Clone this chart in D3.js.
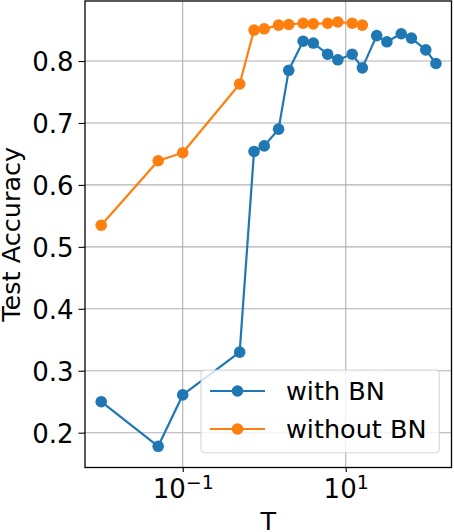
<!DOCTYPE html>
<html>
<head>
<meta charset="utf-8">
<script src="https://cdn.jsdelivr.net/npm/d3@7"></script>
<style>
  body { margin: 0; background: #fff; }
  text { font-family: "DejaVu Sans", sans-serif; fill: #000; }
</style>
</head>
<body>
<svg width="454" height="532"></svg>
<script>
// values
const tWithBN = [0.01, 0.05, 0.1, 0.5, 0.75, 1, 1.5, 2, 3, 4, 6, 8, 12, 16, 24, 32, 48, 64, 96, 128];
const accWithBN = [0.250, 0.178, 0.261, 0.330, 0.654, 0.663, 0.690, 0.785, 0.832, 0.829, 0.811, 0.802,
  0.811, 0.789, 0.841, 0.831, 0.844, 0.837, 0.818, 0.796];
const tWithoutBN = [0.01, 0.05, 0.1, 0.5, 0.75, 1, 1.5, 2, 3, 4, 6, 8, 12, 16];
const accWithoutBN = [0.535, 0.639, 0.652, 0.763, 0.850, 0.852, 0.858, 0.859, 0.861, 0.860, 0.861, 0.863,
  0.861, 0.858];
const seriesNames = ['with BN', 'without BN'];
const xTicks = [0.1, 10];
const yTicks = [0.2, 0.3, 0.4, 0.5, 0.6, 0.7, 0.8];

const svg = d3.select('svg');
const plot = { left: 85, right: 451.5, top: 1, bottom: 467.5 };
const fontSize = 25.5;
const tickFontSize = 26;

const series = [
  { name: seriesNames[0], color: '#1f77b4', values: tWithBN.map((t, i) => ({ t, acc: accWithBN[i] })) },
  { name: seriesNames[1], color: '#ff7f0e', values: tWithoutBN.map((t, i) => ({ t, acc: accWithoutBN[i] })) }
];

const xScale = d3.scaleLog()
  .domain([Math.pow(10, -2.199), Math.pow(10, 2.298)])
  .range([plot.left, plot.right]);

const yScale = d3.scaleLinear()
  .domain([0.1438, 0.8969])
  .range([plot.bottom, plot.top]);

/* grid */
const grid = svg.append('g').attr('class', 'grid')
  .attr('stroke', '#b0b0b0').attr('stroke-width', 1.1);
grid.selectAll('line.gx').data(xTicks).join('line')
  .attr('class', 'gx')
  .attr('x1', d => xScale(d)).attr('x2', d => xScale(d))
  .attr('y1', plot.top).attr('y2', plot.bottom);
grid.selectAll('line.gy').data(yTicks).join('line')
  .attr('class', 'gy')
  .attr('x1', plot.left).attr('x2', plot.right)
  .attr('y1', d => yScale(d)).attr('y2', d => yScale(d));

/* lines and markers */
const line = d3.line()
  .x(d => xScale(d.t))
  .y(d => yScale(d.acc));

const seriesG = svg.selectAll('g.series').data(series).join('g')
  .attr('class', 'series');
seriesG.append('path')
  .attr('d', d => line(d.values))
  .attr('fill', 'none')
  .attr('stroke', d => d.color)
  .attr('stroke-width', 2.2)
  .attr('stroke-linejoin', 'round');
seriesG.each(function(s) {
  d3.select(this).selectAll('circle').data(s.values).join('circle')
    .attr('cx', d => xScale(d.t))
    .attr('cy', d => yScale(d.acc))
    .attr('r', 5.8)
    .attr('fill', s.color);
});

/* axes */
const yAxis = d3.axisLeft(yScale)
  .tickValues(yTicks)
  .tickSize(6.5)
  .tickPadding(5)
  .tickFormat(d3.format('.1f'));
const yAxisG = svg.append('g')
  .attr('transform', `translate(${plot.left},0)`)
  .call(yAxis);
yAxisG.select('.domain').remove();
yAxisG.selectAll('.tick line').attr('stroke', '#000').attr('stroke-width', 1.1);
yAxisG.selectAll('.tick text')
  .attr('font-size', tickFontSize)
  .attr('font-family', '"DejaVu Sans", sans-serif')
  .attr('dy', '0.37em');

const xAxis = d3.axisBottom(xScale)
  .tickValues(xTicks)
  .tickSize(4.5)
  .tickFormat('');
const xAxisG = svg.append('g')
  .attr('transform', `translate(0,${plot.bottom})`)
  .call(xAxis);
xAxisG.select('.domain').remove();
xAxisG.selectAll('.tick line').attr('stroke', '#000').attr('stroke-width', 1.1);
xAxisG.selectAll('.tick').append('text')
  .attr('y', 30.5)
  .attr('text-anchor', 'middle')
  .attr('font-size', tickFontSize)
  .call(t => {
    t.append('tspan').text('10');
    t.append('tspan')
      .attr('font-size', 19)
      .attr('dy', -9.5)
      .text(d => d < 1 ? '\u22121' : '1');
  });

/* frame */
svg.append('rect')
  .attr('x', plot.left).attr('y', plot.top)
  .attr('width', plot.right - plot.left)
  .attr('height', plot.bottom - plot.top)
  .attr('fill', 'none')
  .attr('stroke', '#000')
  .attr('stroke-width', 1.3);

/* axis labels */
svg.append('text')
  .attr('x', (plot.left + plot.right) / 2)
  .attr('y', 529.5)
  .attr('text-anchor', 'middle')
  .attr('font-size', fontSize)
  .text('T');

svg.append('text')
  .attr('transform', `translate(19.5,${(plot.top + plot.bottom) / 2}) rotate(-90)`)
  .attr('text-anchor', 'middle')
  .attr('font-size', fontSize)
  .text('Test Accuracy');

/* legend */
const legendG = svg.append('g').attr('transform', 'translate(201,370)');
legendG.append('rect')
  .attr('width', 238.3).attr('height', 82.7)
  .attr('rx', 4)
  .attr('fill', 'rgba(255,255,255,0.8)')
  .attr('stroke', 'rgba(204,204,204,0.8)')
  .attr('stroke-width', 1.1);
const item = legendG.selectAll('g.item').data(series).join('g')
  .attr('class', 'item')
  .attr('transform', (d, i) => `translate(0,${21 + i * 38})`);
item.append('line')
  .attr('x1', 9).attr('x2', 64)
  .attr('stroke', d => d.color).attr('stroke-width', 2.2);
item.append('circle')
  .attr('cx', 36.5).attr('r', 5.8)
  .attr('fill', d => d.color);
item.append('text')
  .attr('x', 85)
  .attr('dy', '0.34em')
  .attr('font-size', fontSize)
  .text(d => d.name);
</script>
</body>
</html>
